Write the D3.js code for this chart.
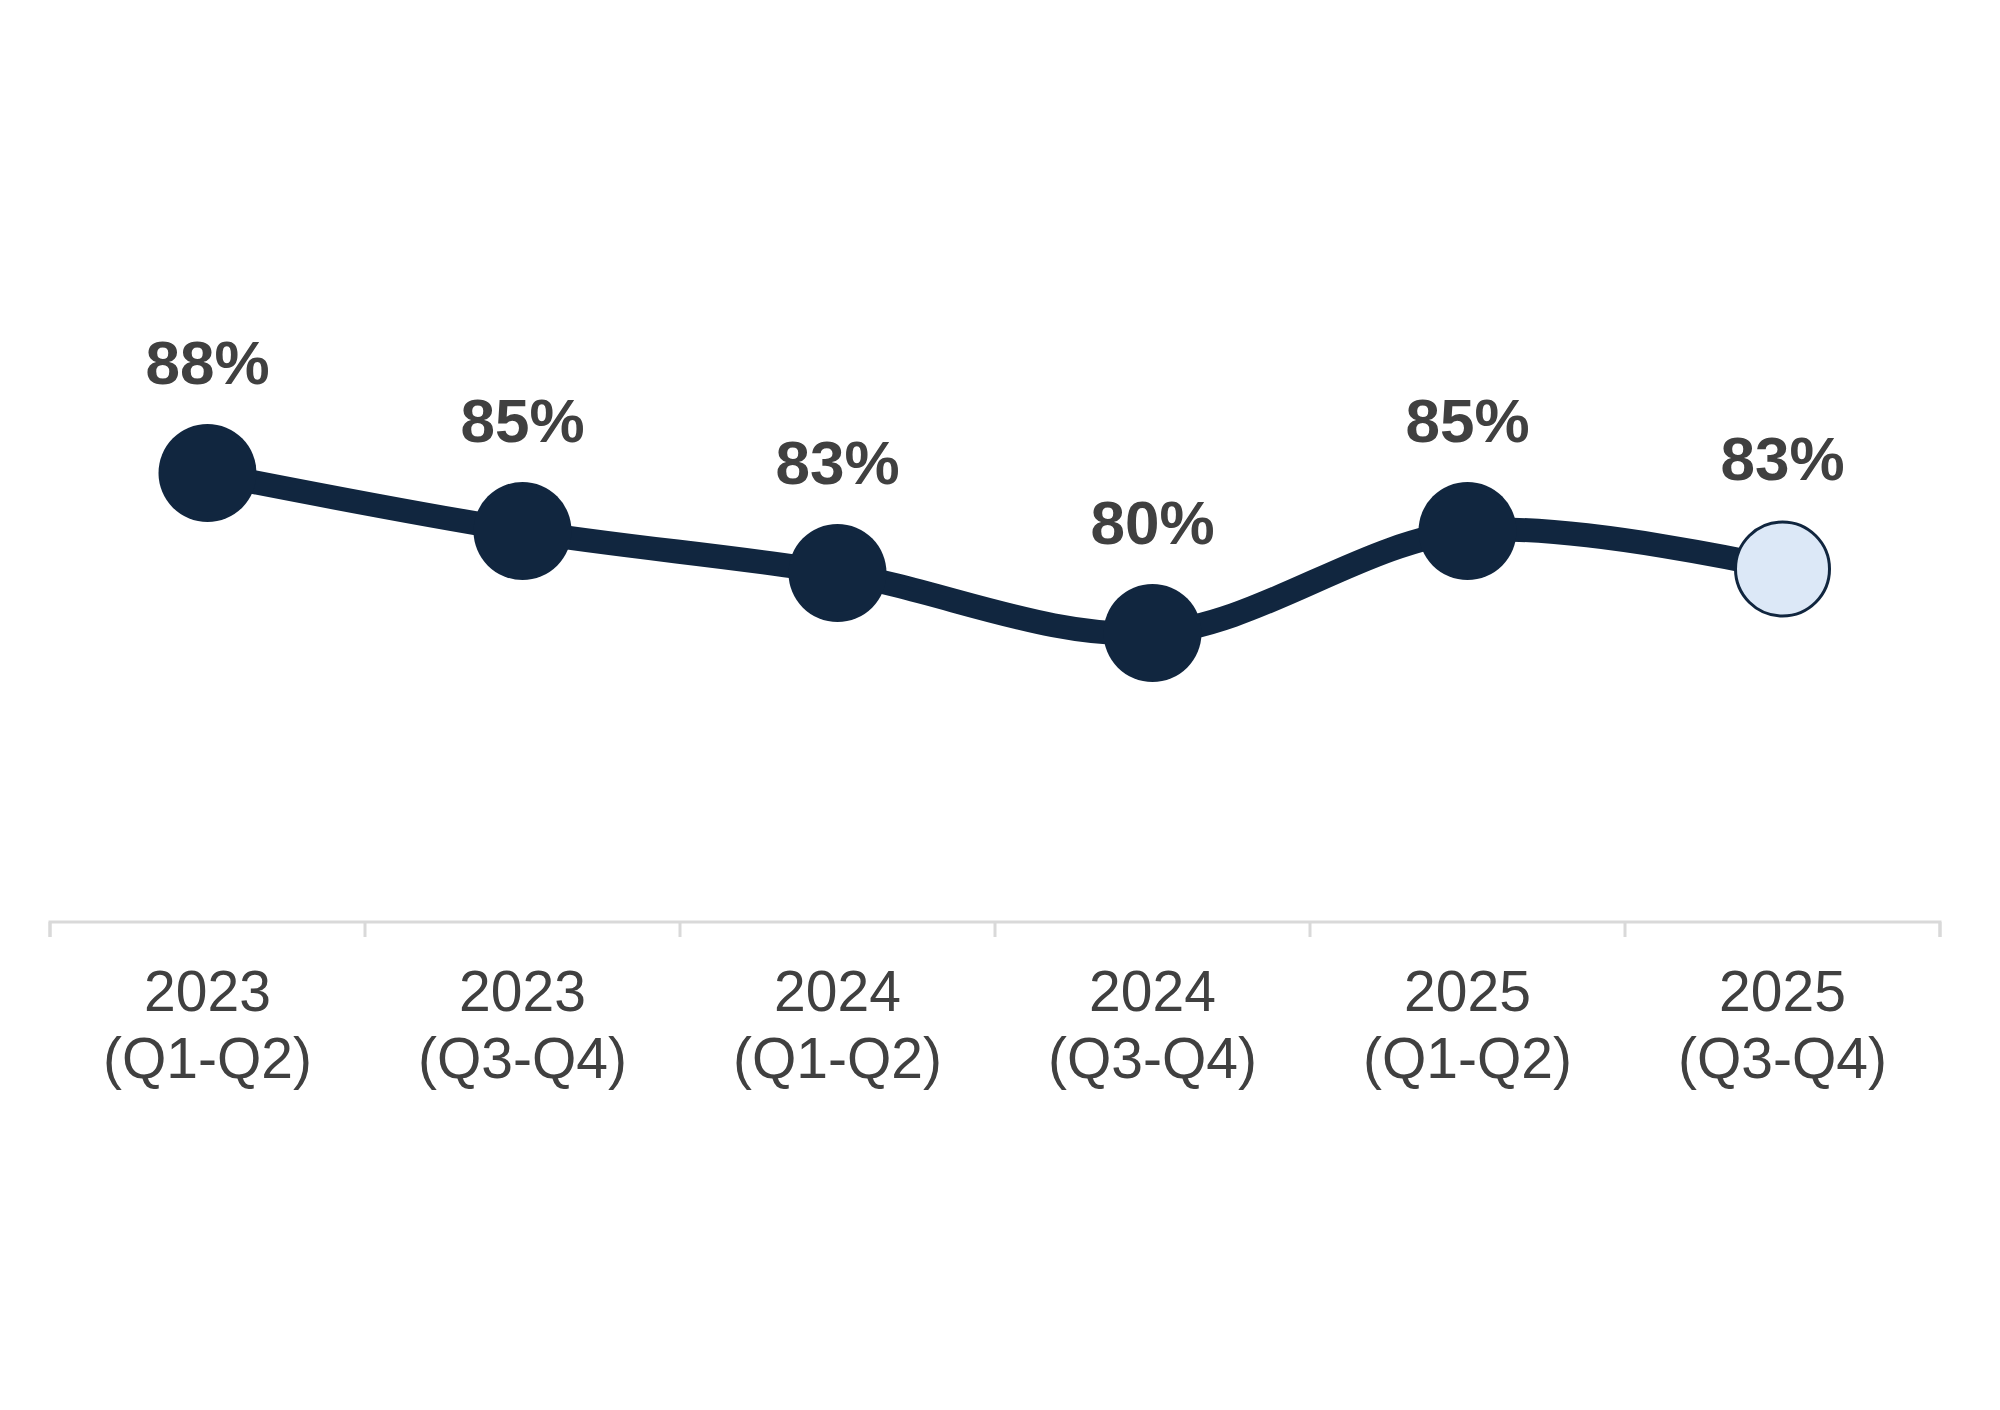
<!DOCTYPE html>
<html>
<head>
<meta charset="utf-8">
<script src="https://cdn.jsdelivr.net/npm/d3@7"></script>
<style>
	html, body { margin: 0; padding: 0; background: #ffffff; }
	svg { display: block; }
	text { font-family: 'Liberation Sans', Arial, sans-serif; }
</style>
</head>
<body>
<svg id="chart"></svg>
<script>
// Chart data
const years = [ '2023', '2023', '2024', '2024', '2025', '2025' ];
const halves = [ '(Q1-Q2)', '(Q3-Q4)', '(Q1-Q2)', '(Q3-Q4)', '(Q1-Q2)', '(Q3-Q4)' ];
const values = [ 88, 85.1, 83, 80, 85.1, 83.2 ];
const valueLabels = [ '88%', '85%', '83%', '80%', '85%', '83%' ];

const width = 2000;
const height = 1410;
const margin = { top: 0, right: 60, bottom: 0, left: 50 };
const axisY = 922;

const navy = '#11263f';

const svg = d3.select( '#chart' )
	.attr( 'width', width )
	.attr( 'height', height );

const categories = d3.range( values.length );

const xScale = d3.scaleBand()
	.domain( categories )
	.range( [ margin.left, width - margin.right ] )
	.padding( 0 );

// 20px per percentage point, 88% sits at y=473
const yScale = d3.scaleLinear()
	.domain( [ 70, 95 ] )
	.range( [ 833, 333 ] );

const cx = ( i ) => xScale( i ) + xScale.bandwidth() / 2;

// Category axis
const xAxis = d3.axisBottom( xScale )
	.tickSize( 15 )
	.tickFormat( '' );

const axisG = svg.append( 'g' )
	.attr( 'transform', `translate(0,${ axisY })` )
	.call( xAxis );

axisG.select( '.domain' )
	.attr( 'stroke', '#d9d9d9' )
	.attr( 'stroke-width', 3 )
	.attr( 'd', `M${ margin.left },15V0H${ width - margin.right }V15` );

// Ticks on band edges, not centers
axisG.selectAll( '.tick' ).remove();
const edges = categories.concat( [ values.length ] );
axisG.selectAll( '.edge' )
	.data( edges )
	.enter()
	.append( 'line' )
	.attr( 'class', 'edge' )
	.attr( 'x1', ( d ) => d < values.length ? xScale( d ) : xScale( d - 1 ) + xScale.bandwidth() )
	.attr( 'x2', ( d ) => d < values.length ? xScale( d ) : xScale( d - 1 ) + xScale.bandwidth() )
	.attr( 'y1', 0 )
	.attr( 'y2', 15 )
	.attr( 'stroke', '#d9d9d9' )
	.attr( 'stroke-width', 3 );

// Category labels (two lines)
const catLabels = svg.append( 'g' )
	.selectAll( 'text' )
	.data( categories )
	.enter()
	.append( 'text' )
	.attr( 'text-anchor', 'middle' )
	.attr( 'font-size', 57 )
	.attr( 'fill', '#404040' );

catLabels.append( 'tspan' )
	.attr( 'x', ( d ) => cx( d ) )
	.attr( 'y', 1011 )
	.text( ( d ) => years[ d ] );

catLabels.append( 'tspan' )
	.attr( 'x', ( d ) => cx( d ) )
	.attr( 'y', 1078 )
	.text( ( d ) => halves[ d ] );

// Smoothed line
const line = d3.line()
	.x( ( d, i ) => cx( i ) )
	.y( ( d ) => yScale( d ) )
	.curve( d3.curveCatmullRom.alpha( 0.5 ) );

svg.append( 'path' )
	.datum( values )
	.attr( 'd', line )
	.attr( 'fill', 'none' )
	.attr( 'stroke', navy )
	.attr( 'stroke-width', 24 )
	.attr( 'stroke-linejoin', 'round' );

// Markers; last one is a lighter forecast point
svg.append( 'g' )
	.selectAll( 'circle' )
	.data( values )
	.enter()
	.append( 'circle' )
	.attr( 'cx', ( d, i ) => cx( i ) )
	.attr( 'cy', ( d ) => yScale( d ) )
	.attr( 'r', ( d, i ) => i === values.length - 1 ? 47 : 49 )
	.attr( 'fill', ( d, i ) => i === values.length - 1 ? '#dce8f7' : navy )
	.attr( 'stroke', navy )
	.attr( 'stroke-width', ( d, i ) => i === values.length - 1 ? 3 : 0 );

// Value labels
svg.append( 'g' )
	.selectAll( 'text' )
	.data( values )
	.enter()
	.append( 'text' )
	.attr( 'x', ( d, i ) => cx( i ) )
	.attr( 'y', ( d ) => yScale( d ) - 89 )
	.attr( 'text-anchor', 'middle' )
	.attr( 'font-size', 62 )
	.attr( 'font-weight', 'bold' )
	.attr( 'fill', '#404040' )
	.text( ( d, i ) => valueLabels[ i ] );
</script>
</body>
</html>
